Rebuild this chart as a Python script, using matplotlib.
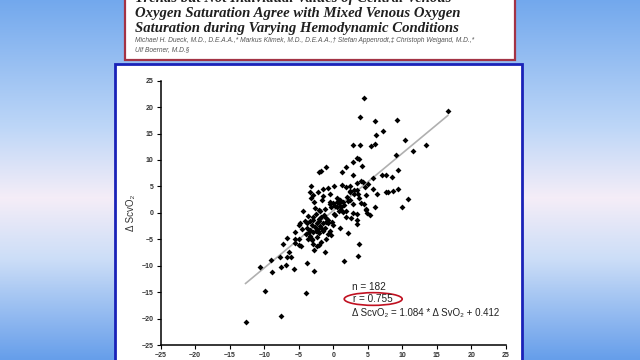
import matplotlib
matplotlib.use('Agg')
import matplotlib.pyplot as plt
import matplotlib.patches as patches
import numpy as np
from matplotlib.colors import LinearSegmentedColormap

# change in SvO2 (x) and ScvO2 (y)
d_svo2 = [4.44, 3.86, 16.6, 9.18, 6.09, 7.25, 6.18, 10.4, 13.4, 2.9, 3.86, 6.04, 5.5, 11.5,
          9.1, 3.4, 3.7, 2.9, 4.2, 1.8, -1.06, 9.37, 1.26, -1.8, -2.1, 2.9, 5.8, 7.05, 7.6,
          8.5, 3.96, 4.25, 3.5, 1.3, -3.2, 0.1, 2.4, 4.6, -0.7, -1.45, 5.8, 9.37, 2.95, 3.4,
          2.4, -2.2, -3.4, 2.4, 7.7, 8.0, 8.6, 3.0, 3.6, 6.4, 4.7, -3.0, -0.4, -1.45, -3.2,
          0.5, 10.9, -1.6, -2.75, 1.0, 0.77, 1.45, 2.2, 2.4, -0.4, 0.5, 0.77, 4.1, 4.4, 2.85,
          -0.5, 0.24, 0.97, -0.3, 0.5, 1.1, 9.95, 6.04, 4.7, 4.8, -4.35, -1.9, 1.2, 1.45, 1.9,
          2.8, 3.5, 4.9, 5.3, -2.56, 0.1, -3.7, -2.9, -1.35, -1.84, 1.9, -2.1, -0.7, 3.4, -2.9,
          -4.1, -3.4, -2.0, -1.06, 3.5, -4.8, -4.9, -2.4, -1.45, -0.72, -3.1, -2.66, -1.93, -0.1,
          -3.86, -2.42, -1.84, -1.16, -3.38, -2.56, -2.17, -1.55, 0.97, -5.5, -3.57, -2.9, -2.0,
          2.2, -4.0, -0.72, -0.34, -3.38, -3.6, -3.1, -1.0, -3.14, -6.76, -5.55, -7.25, -5.55,
          -4.98, -4.69, -2.08, -1.74, -2.4, 3.77, -2.8, -6.42, -1.2, -7.73, -6.76, -6.14, 3.6,
          -9.03, 1.6, -3.86, -10.6, -7.6, -6.9, -5.65, -8.94, -2.8, -9.86, -3.9, -7.6, -12.66,
          -2.6, -1.2, 0.3, -3.8, -2.3, -0.5, 1.5, 2.0, -1.0, 0.8, -4.5, -3.0, 0.0, 1.8, 3.8,
          -2.0, -0.2, -5.0, 2.6, 5.0]
d_scvo2 = [21.7, 18.1, 19.2, 17.6, 17.3, 15.4, 14.8, 13.7, 12.9, 12.8, 12.8, 13.1, 12.6, 11.7,
           11.0, 10.3, 10.1, 9.6, 8.8, 8.7, 8.6, 8.2, 7.75, 7.9, 7.7, 7.1, 6.5, 7.25, 7.25,
           6.7, 6.05, 5.86, 5.7, 5.36, 5.1, 5.1, 5.0, 4.8, 4.7, 4.6, 4.6, 4.6, 4.4, 4.3,
           4.1, 4.0, 3.9, 3.85, 3.85, 4.0, 4.1, 3.66, 3.5, 3.66, 3.3, 3.3, 3.66, 3.15, 2.9,
           2.9, 2.6, 2.4, 2.1, 2.4, 2.4, 2.1, 2.3, 2.4, 2.0, 2.0, 1.77, 1.9, 1.64, 1.64,
           1.64, 1.39, 1.39, 1.13, 1.13, 1.07, 1.13, 1.13, 0.8, 0.5, 0.3, 0.38, 0.5, 0.19, 0.3,
           0.0, -0.25, 0.0, -0.44, -0.13, -0.13, -0.63, -0.76, -0.44, -0.76, -0.76, -1.07, -1.26, -1.26, -1.26,
           -1.5, -1.5, -1.5, -1.7, -2.1, -2.0, -2.3, -2.0, -2.0, -2.0, -2.3, -2.65, -2.46, -2.3,
           -2.96, -3.0, -2.96, -2.96, -3.3, -3.4, -3.4, -3.4, -2.96, -3.6, -3.6, -3.6, -3.8,
           -3.8, -4.0, -4.0, -4.2, -4.35, -4.86, -4.86, -4.86, -5.2, -4.7, -4.86, -5.8, -5.7,
           -6.1, -6.2, -6.0, -5.6, -6.3, -5.93, -7.06, -7.38, -7.5, -8.3, -8.3, -8.3, -8.1,
           -8.95, -9.08, -9.4, -10.3, -10.3, -9.96, -10.7, -11.2, -11.0, -14.7, -15.1, -19.5, -20.7,
           1.0, 0.8, -0.5, -2.0, -4.5, -3.5, 1.5, 3.0, -1.0, 0.3, -3.0, -5.8, 1.8, 4.8, 2.8,
           0.5, -1.8, -5.0, -1.0, 5.5]
slope, intercept = 1.084, 0.412
line_x = [-12.7, 16.6]
ticks = list(range(-25, 30, 5))

fig = plt.figure(figsize=(6.4, 3.6), dpi=100)

# slide background gradient
bg = fig.add_axes([0, 0, 1, 1], zorder=0)
cmap = LinearSegmentedColormap.from_list('slide', [
    (0.0, (0.45, 0.66, 0.93)), (0.35, (0.74, 0.84, 0.97)), (0.55, (0.96, 0.93, 0.97)),
    (0.72, (0.80, 0.87, 0.97)), (1.0, (0.40, 0.62, 0.92))])
bg.imshow(np.linspace(0, 1, 256).reshape(-1, 1), aspect='auto', cmap=cmap,
          extent=[0, 1, 0, 1])
bg.axis('off')

# paper header box
fig.patches.append(patches.Rectangle((125/640, 1 - 60/360), 390/640, 0.2, transform=fig.transFigure,
                                     facecolor='white', edgecolor='#a33345', lw=1.6, zorder=1))
title_lines = ['Trends but Not Individual Values of Central Venous',
               'Oxygen Saturation Agree with Mixed Venous Oxygen',
               'Saturation during Varying Hemodynamic Conditions']
for i, t in enumerate(title_lines):
    fig.text(135/640, 1 - (i * 15.2 - 1.5)/360, t, family='Liberation Serif', weight='bold',
             style='italic', fontsize=10.6, color='#202020', va='center', ha='left', zorder=2)
fig.text(135/640, 1 - 40.5/360,
         'Michael H. Dueck, M.D., D.E.A.A.,* Markus Klimek, M.D., D.E.A.A.,\u2020 Stefan Appenrodt,\u2021 Christoph Weigand, M.D.,*',
         family='Liberation Sans', style='italic', fontsize=4.8, color='#555555', va='center', zorder=2)
fig.text(135/640, 1 - 50/360, 'Ulf Boerner, M.D.\u00a7', family='Liberation Sans', style='italic',
         fontsize=4.8, color='#555555', va='center', zorder=2)

# chart box
fig.patches.append(patches.Rectangle((115/640, -0.05), 407/640, 1 - 64/360 + 0.05, transform=fig.transFigure,
                                     facecolor='white', edgecolor='#1a22b8', lw=2, zorder=1))

ax = fig.add_axes([160.7/640, 15/360, 345/640, 264.3/360], zorder=3)
ax.patch.set_alpha(0)
ax.plot(line_x, [slope * v + intercept for v in line_x], color='#b0b0b0', lw=1.2, zorder=2)
ax.scatter(d_svo2, d_scvo2, marker='D', s=9, color='black', linewidths=0, zorder=3)
ax.set_xlim(-25, 25)
ax.set_ylim(-25, 25)
ax.set_xticks(ticks)
ax.set_yticks(ticks)
for s in ['top', 'right']:
    ax.spines[s].set_visible(False)
for s in ['left', 'bottom']:
    ax.spines[s].set_linewidth(1.1)
ax.tick_params(direction='out', length=3, width=0.8, labelsize=5, pad=2, labelcolor='#333333')
for lab in ax.get_xticklabels() + ax.get_yticklabels():
    lab.set_fontweight('bold')
    lab.set_family('Liberation Sans')
ax.set_ylabel('\u0394 ScvO\u2082', family='Liberation Sans', fontsize=7, color='#333333', labelpad=4)

ax.text(2.7, -14.1, 'n = 182', fontsize=7.2, family='Liberation Sans', color='#222222', va='center')
ax.text(2.8, -16.3, 'r = 0.755', fontsize=7.2, family='Liberation Sans', color='#222222', va='center')
ax.add_patch(patches.Ellipse((5.8, -16.3), 8.4, 2.4, fill=False, edgecolor='#c01020', lw=1.2))
ax.text(2.7, -18.9, '\u0394 ScvO\u2082 = 1.084 * \u0394 SvO\u2082 + 0.412', fontsize=7.0,
        family='Liberation Sans', color='#222222', va='center')

fig.savefig('out.png', dpi=100)
